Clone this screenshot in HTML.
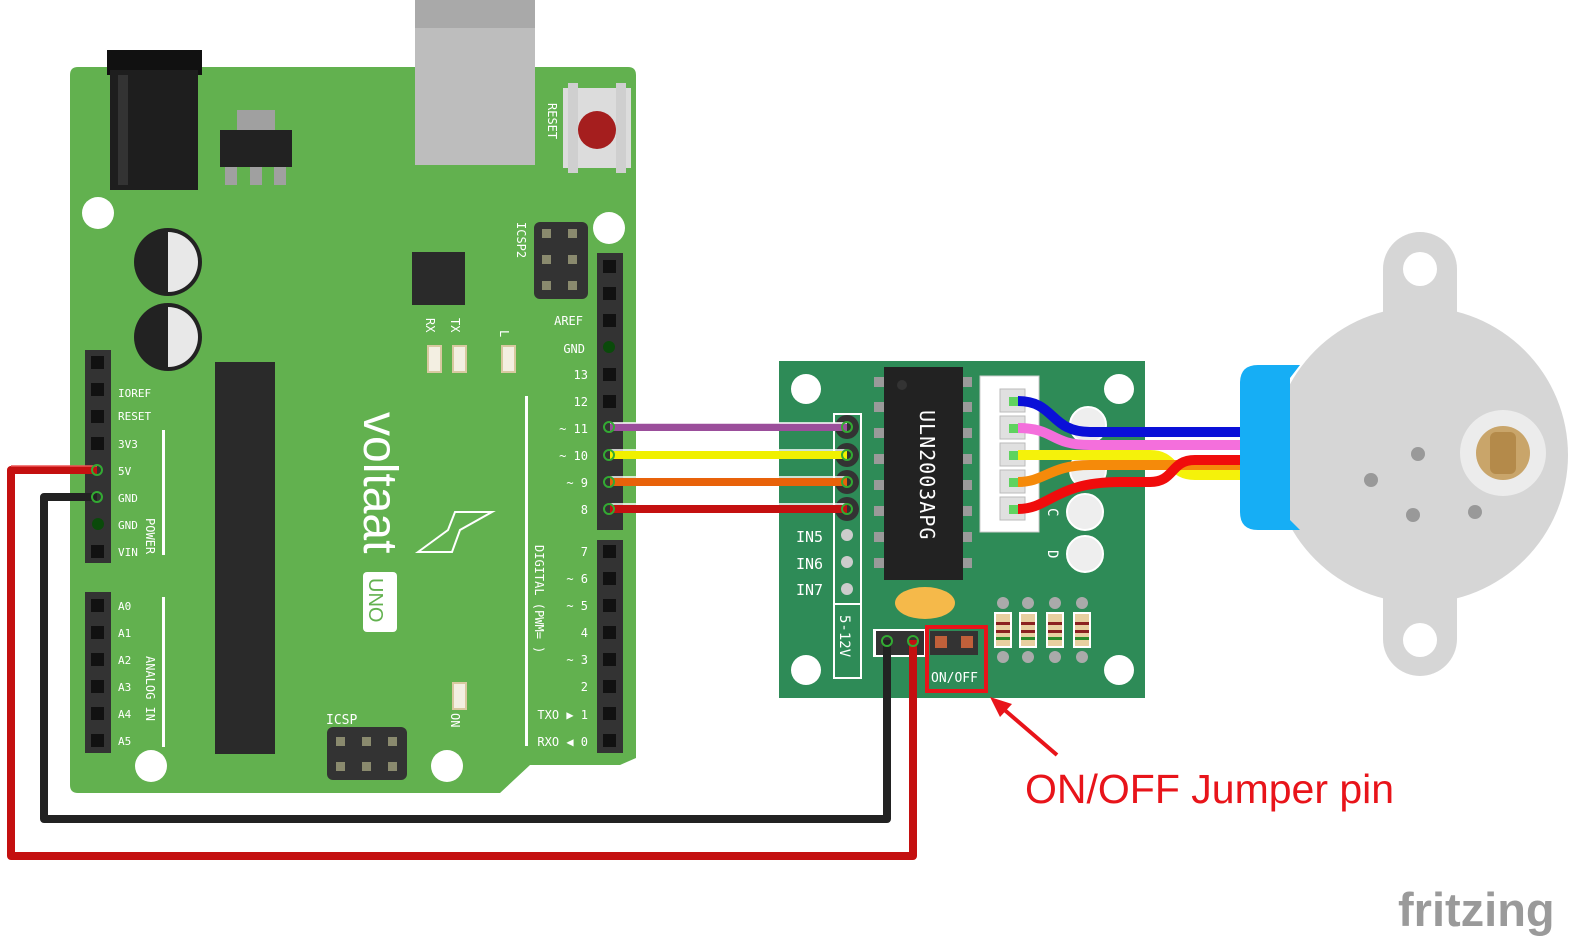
<!DOCTYPE html>
<html><head><meta charset="utf-8"><style>
html,body{margin:0;padding:0;background:#fff;}
svg{display:block;}
text{font-family:"DejaVu Sans Mono","Liberation Mono",monospace;}
</style></head><body>
<svg width="1572" height="939" viewBox="0 0 1572 939" xmlns="http://www.w3.org/2000/svg">
<!-- USB -->
<rect x="400" y="67" width="150" height="16" fill="#a8a8a8"/>
<rect x="415" y="0" width="120" height="165" fill="#bdbdbd"/>
<rect x="415" y="0" width="120" height="28" fill="#a9a9a9"/>
<!-- Arduino board -->
<path d="M78,67 H628 Q636,67 636,75 V758 L620,765 H530 L500,793 H78 Q70,793 70,785 V75 Q70,67 78,67 Z" fill="#62b14f"/>
<rect x="415" y="67" width="120" height="98" fill="#bdbdbd"/>
<!-- power jack -->
<rect x="107" y="50" width="95" height="25" fill="#111"/>
<rect x="110" y="70" width="88" height="120" fill="#1e1e1e"/>
<rect x="118" y="75" width="10" height="110" fill="#333"/>
<!-- regulator -->
<rect x="237" y="110" width="38" height="22" fill="#a0a0a0"/>
<rect x="220" y="130" width="72" height="37" fill="#222"/>
<rect x="225" y="167" width="12" height="18" fill="#a0a0a0"/><rect x="250" y="167" width="12" height="18" fill="#a0a0a0"/><rect x="274" y="167" width="12" height="18" fill="#a0a0a0"/>
<!-- reset -->
<rect x="563" y="88" width="68" height="80" fill="#dcdcdc"/>
<rect x="568" y="83" width="10" height="90" fill="#cfcfcf"/><rect x="616" y="83" width="10" height="90" fill="#cfcfcf"/>
<circle cx="597" cy="130" r="19" fill="#a51e1e"/>
<text x="548" y="103" font-size="12" fill="#fff" transform="rotate(90 548 103)">RESET</text>
<!-- holes -->
<circle cx="98" cy="213" r="16" fill="#fff"/><circle cx="609" cy="228" r="16" fill="#fff"/>
<circle cx="151" cy="766" r="16" fill="#fff"/><circle cx="447" cy="766" r="16" fill="#fff"/>
<!-- caps -->
<g><circle cx="168" cy="262" r="34" fill="#222"/><path d="M168,232 A30,30 0 0 1 168,292 Z" fill="#e8e8e8"/></g>
<g><circle cx="168" cy="337" r="34" fill="#222"/><path d="M168,307 A30,30 0 0 1 168,367 Z" fill="#e8e8e8"/></g>
<!-- chips -->
<rect x="215" y="362" width="60" height="392" fill="#2a2a2a"/>
<rect x="412" y="252" width="53" height="53" fill="#2a2a2a"/>
<!-- ICSP2 -->
<rect x="534" y="222" width="54" height="77" rx="6" fill="#333"/>
<g fill="#8a8a6e"><rect x="542" y="229" width="9" height="9"/><rect x="568" y="229" width="9" height="9"/><rect x="542" y="255" width="9" height="9"/><rect x="568" y="255" width="9" height="9"/><rect x="542" y="281" width="9" height="9"/><rect x="568" y="281" width="9" height="9"/></g>
<text x="517" y="222" font-size="12" fill="#fff" transform="rotate(90 517 222)">ICSP2</text>
<!-- ICSP bottom -->
<rect x="327" y="727" width="80" height="53" rx="6" fill="#333"/>
<g fill="#8a8a6e"><rect x="336" y="737" width="9" height="9"/><rect x="362" y="737" width="9" height="9"/><rect x="388" y="737" width="9" height="9"/><rect x="336" y="762" width="9" height="9"/><rect x="362" y="762" width="9" height="9"/><rect x="388" y="762" width="9" height="9"/></g>
<text x="326" y="724" font-size="13" fill="#fff">ICSP</text>
<!-- LEDs -->
<g fill="#f3efe2" stroke="#d8c9a0" stroke-width="2"><rect x="428" y="346" width="13" height="26"/><rect x="453" y="346" width="13" height="26"/><rect x="502" y="346" width="13" height="26"/><rect x="453" y="683" width="13" height="26"/></g>
<g font-size="12" fill="#fff">
<text x="426" y="318" transform="rotate(90 426 318)">RX</text>
<text x="451" y="318" transform="rotate(90 451 318)">TX</text>
<text x="500" y="330" transform="rotate(90 500 330)">L</text>
<text x="451" y="713" transform="rotate(90 451 713)">ON</text>
<text x="535" y="545" transform="rotate(90 535 545)">DIGITAL (PWM= )</text>
<text x="146" y="518" transform="rotate(90 146 518)">POWER</text>
<text x="146" y="656" transform="rotate(90 146 656)">ANALOG IN</text>
</g>
<rect x="525" y="396" width="3" height="350" fill="#fff"/>
<rect x="162" y="430" width="3" height="125" fill="#fff"/>
<rect x="162" y="597" width="3" height="150" fill="#fff"/>
<!-- voltaat logo -->
<text x="364" y="412" font-size="48" fill="#fff" transform="rotate(90 364 412)" style="font-family:'Liberation Sans',sans-serif">voltaat</text>
<rect x="363" y="572" width="34" height="60" rx="4" fill="#fff"/>
<text x="369" y="578" font-size="20" fill="#62b14f" transform="rotate(90 369 578)" style="font-family:'Liberation Sans',sans-serif">UNO</text>
<path d="M418,552 L448,530 L455,512 L492,512 L460,530 L452,552 Z" fill="none" stroke="#fff" stroke-width="2"/>
<!-- right headers -->
<rect x="597" y="253" width="26" height="277" fill="#333"/>
<rect x="597" y="540" width="26" height="213" fill="#333"/>
<g fill="#111">
<rect x="603" y="260" width="13" height="13"/><rect x="603" y="287" width="13" height="13"/><rect x="603" y="314" width="13" height="13"/><rect x="603" y="368" width="13" height="13"/><rect x="603" y="395" width="13" height="13"/>
<rect x="603" y="545" width="13" height="13"/><rect x="603" y="572" width="13" height="13"/><rect x="603" y="599" width="13" height="13"/><rect x="603" y="626" width="13" height="13"/><rect x="603" y="653" width="13" height="13"/><rect x="603" y="680" width="13" height="13"/><rect x="603" y="707" width="13" height="13"/><rect x="603" y="734" width="13" height="13"/>
</g>
<circle cx="609" cy="347" r="6" fill="#0a4a0a"/>
<g font-size="12" fill="#fff" text-anchor="end">
<text x="583" y="325">AREF</text><text x="585" y="353">GND</text><text x="588" y="379">13</text><text x="588" y="406">12</text>
<text x="588" y="433">~ 11</text><text x="588" y="460">~ 10</text><text x="588" y="487">~ 9</text><text x="588" y="514">8</text>
<text x="588" y="556">7</text><text x="588" y="583">~ 6</text><text x="588" y="610">~ 5</text><text x="588" y="637">4</text><text x="588" y="664">~ 3</text><text x="588" y="691">2</text><text x="588" y="719">TXO ▶ 1</text><text x="588" y="746">RXO ◀ 0</text>
</g>
<!-- left headers -->
<rect x="85" y="350" width="26" height="213" fill="#333"/>
<rect x="85" y="592" width="26" height="161" fill="#333"/>
<g fill="#111">
<rect x="91" y="356" width="13" height="13"/><rect x="91" y="383" width="13" height="13"/><rect x="91" y="410" width="13" height="13"/><rect x="91" y="437" width="13" height="13"/><rect x="91" y="545" width="13" height="13"/>
<rect x="91" y="599" width="13" height="13"/><rect x="91" y="626" width="13" height="13"/><rect x="91" y="653" width="13" height="13"/><rect x="91" y="680" width="13" height="13"/><rect x="91" y="707" width="13" height="13"/><rect x="91" y="734" width="13" height="13"/>
</g>
<circle cx="98" cy="524" r="6" fill="#0a4a0a"/>
<g font-size="11" fill="#fff">
<text x="118" y="397">IOREF</text><text x="118" y="420">RESET</text><text x="118" y="448">3V3</text><text x="118" y="475">5V</text><text x="118" y="502">GND</text><text x="118" y="529">GND</text><text x="118" y="556">VIN</text>
<text x="118" y="610">A0</text><text x="118" y="637">A1</text><text x="118" y="664">A2</text><text x="118" y="691">A3</text><text x="118" y="718">A4</text><text x="118" y="745">A5</text>
</g>
<!-- Driver board -->
<rect x="779" y="361" width="366" height="337" fill="#2e8b57"/>
<circle cx="806" cy="389" r="15" fill="#fff"/><circle cx="1119" cy="389" r="15" fill="#fff"/>
<circle cx="806" cy="670" r="15" fill="#fff"/><circle cx="1119" cy="670" r="15" fill="#fff"/>
<rect x="834" y="414" width="27" height="264" fill="none" stroke="#fff" stroke-width="2"/>
<line x1="834" y1="604" x2="861" y2="604" stroke="#fff" stroke-width="2"/>
<g fill="#333"><circle cx="847" cy="427" r="12"/><circle cx="847" cy="455" r="12"/><circle cx="847" cy="482" r="12"/><circle cx="847" cy="509" r="12"/></g>
<g fill="#ccc"><circle cx="847" cy="535" r="6"/><circle cx="847" cy="562" r="6"/><circle cx="847" cy="589" r="6"/></g>
<g font-size="15" fill="#fff"><text x="796" y="542">IN5</text><text x="796" y="569">IN6</text><text x="796" y="595">IN7</text></g>
<text x="840" y="615" font-size="14" fill="#fff" transform="rotate(90 840 615)">5-12V</text>
<!-- chip -->
<g fill="#9a9a9a">
<rect x="874" y="377" width="10" height="10"/><rect x="874" y="402" width="10" height="10"/><rect x="874" y="428" width="10" height="10"/><rect x="874" y="454" width="10" height="10"/><rect x="874" y="480" width="10" height="10"/><rect x="874" y="506" width="10" height="10"/><rect x="874" y="532" width="10" height="10"/><rect x="874" y="558" width="10" height="10"/>
<rect x="962" y="377" width="10" height="10"/><rect x="962" y="402" width="10" height="10"/><rect x="962" y="428" width="10" height="10"/><rect x="962" y="454" width="10" height="10"/><rect x="962" y="480" width="10" height="10"/><rect x="962" y="506" width="10" height="10"/><rect x="962" y="532" width="10" height="10"/><rect x="962" y="558" width="10" height="10"/>
</g>
<rect x="884" y="367" width="79" height="213" fill="#222"/>
<circle cx="902" cy="385" r="5" fill="#333"/>
<text x="920" y="410" font-size="20" fill="#fff" transform="rotate(90 920 410)" letter-spacing="1">ULN2003APG</text>
<ellipse cx="925" cy="603" rx="30" ry="16" fill="#f5b94a"/>
<!-- connector -->
<rect x="980" y="376" width="59" height="156" fill="#fff" stroke="#ccc"/>
<g fill="#e0e0e0" stroke="#bbb"><rect x="1000" y="389" width="25" height="23"/><rect x="1000" y="416" width="25" height="23"/><rect x="1000" y="443" width="25" height="23"/><rect x="1000" y="470" width="25" height="23"/><rect x="1000" y="497" width="25" height="23"/></g>
<g fill="#5fd35f"><rect x="1009" y="397" width="9" height="9"/><rect x="1009" y="424" width="9" height="9"/><rect x="1009" y="451" width="9" height="9"/><rect x="1009" y="478" width="9" height="9"/><rect x="1009" y="505" width="9" height="9"/></g>
<g fill="#eee" stroke="#fff" stroke-width="2"><circle cx="1088" cy="425" r="18"/><circle cx="1088" cy="470" r="18"/><circle cx="1085" cy="512" r="18"/><circle cx="1085" cy="554" r="18"/></g>
<g font-size="14" fill="#fff"><text x="1048" y="508" transform="rotate(90 1048 508)">C</text><text x="1048" y="550" transform="rotate(90 1048 550)">D</text></g>
<!-- resistors -->
<g>
<g fill="#aaa"><circle cx="1003" cy="603" r="6"/><circle cx="1003" cy="657" r="6"/><circle cx="1028" cy="603" r="6"/><circle cx="1028" cy="657" r="6"/><circle cx="1055" cy="603" r="6"/><circle cx="1055" cy="657" r="6"/><circle cx="1082" cy="603" r="6"/><circle cx="1082" cy="657" r="6"/></g>
<g fill="#e8cfa0" stroke="#fff" stroke-width="2"><rect x="995" y="613" width="16" height="34"/><rect x="1020" y="613" width="16" height="34"/><rect x="1047" y="613" width="16" height="34"/><rect x="1074" y="613" width="16" height="34"/></g>
<g fill="#8b2020"><rect x="996" y="622" width="14" height="3"/><rect x="1021" y="622" width="14" height="3"/><rect x="1048" y="622" width="14" height="3"/><rect x="1075" y="622" width="14" height="3"/><rect x="996" y="630" width="14" height="3"/><rect x="1021" y="630" width="14" height="3"/><rect x="1048" y="630" width="14" height="3"/><rect x="1075" y="630" width="14" height="3"/></g>
<g fill="#2a8a2a"><rect x="996" y="637" width="14" height="3"/><rect x="1021" y="637" width="14" height="3"/><rect x="1048" y="637" width="14" height="3"/><rect x="1075" y="637" width="14" height="3"/></g>
</g>
<!-- power header -->
<rect x="873" y="629" width="52" height="28" fill="#fff"/>
<rect x="876" y="631" width="48" height="24" fill="#333"/>
<rect x="930" y="631" width="48" height="24" fill="#333"/>
<rect x="935" y="636" width="12" height="12" fill="#c0603a"/><rect x="961" y="636" width="12" height="12" fill="#c0603a"/>
<text x="931" y="682" font-size="13" fill="#fff">ON/OFF</text>
<rect x="927" y="627" width="59" height="64" fill="none" stroke="#e8141a" stroke-width="4"/>
<!-- Motor -->
<rect x="1383" y="232" width="74" height="444" rx="37" fill="#d6d6d6"/>
<circle cx="1420" cy="455" r="148" fill="#d6d6d6"/>
<circle cx="1420" cy="269" r="17" fill="#fff"/><circle cx="1420" cy="640" r="17" fill="#fff"/>
<circle cx="1503" cy="453" r="43" fill="#ececec"/>
<circle cx="1503" cy="453" r="27" fill="#c9a56a"/>
<rect x="1490" y="432" width="26" height="42" rx="6" fill="#b48a4a"/>
<g fill="#999"><circle cx="1418" cy="454" r="7"/><circle cx="1371" cy="480" r="7"/><circle cx="1413" cy="515" r="7"/><circle cx="1475" cy="512" r="7"/></g>
<path d="M1258,365 H1300 L1290,378 V520 L1300,530 H1258 Q1240,530 1240,512 V383 Q1240,365 1258,365 Z" fill="#16aef5"/>
<!-- motor wires -->
<g fill="none" stroke-width="10">
<path d="M1018,401 C1055,401 1050,432 1090,432 H1240" stroke="#0a10d8"/>
<path d="M1018,428 C1055,428 1050,445 1090,445 H1240" stroke="#f46fdc"/>
<path d="M1018,455 H1150 C1175,455 1170,475 1195,475 H1240" stroke="#f5f20a"/>
<path d="M1018,482 C1045,482 1050,465 1090,465 H1240" stroke="#f58a0a"/>
<path d="M1018,509 C1050,509 1055,482 1120,482 H1150 C1175,482 1170,460 1195,460 H1240" stroke="#f00c0c"/>
</g>
<!-- Arduino-driver wires -->
<g stroke-width="8" fill="none">
<line x1="610" y1="427" x2="847" y2="427" stroke="#9b4e9b"/>
<line x1="610" y1="455" x2="847" y2="455" stroke="#f0f000"/>
<line x1="610" y1="482" x2="847" y2="482" stroke="#e8620a"/>
<line x1="610" y1="509" x2="847" y2="509" stroke="#c41010"/>
</g>
<g stroke-width="1.5" fill="none">
<line x1="610" y1="423" x2="847" y2="423" stroke="#fff"/>
<line x1="610" y1="450" x2="847" y2="450" stroke="#fff"/>
<line x1="610" y1="477" x2="847" y2="477" stroke="#fff"/>
<line x1="610" y1="504" x2="847" y2="504" stroke="#fff"/>
</g>
<g fill="none" stroke="#3a3" stroke-width="2">
<circle cx="609" cy="427" r="5"/><circle cx="609" cy="455" r="5"/><circle cx="609" cy="482" r="5"/><circle cx="609" cy="509" r="5"/>
<circle cx="847" cy="427" r="5"/><circle cx="847" cy="455" r="5"/><circle cx="847" cy="482" r="5"/><circle cx="847" cy="509" r="5"/>
</g>
<!-- power wires -->
<path d="M97,470 H11 V856 H913 V640" fill="none" stroke="#c41010" stroke-width="8" stroke-linejoin="round"/>
<path d="M97,497 H44 V819 H887 V640" fill="none" stroke="#222" stroke-width="8" stroke-linejoin="round"/>
<path d="M97,466 H11" stroke="#e55" stroke-width="1.5"/>
<g fill="none" stroke="#3a3" stroke-width="2"><circle cx="97" cy="470" r="5"/><circle cx="97" cy="497" r="5"/><circle cx="887" cy="641" r="5"/><circle cx="913" cy="641" r="5"/></g>
<!-- annotation -->
<line x1="1057" y1="755" x2="1000" y2="706" stroke="#e8141a" stroke-width="4"/>
<polygon points="990,697 1012,704 1000,717" fill="#e8141a"/>
<text x="1025" y="803" font-size="41" fill="#e8141a" style="font-family:'Liberation Sans',sans-serif">ON/OFF Jumper pin</text>
<text x="1398" y="926" font-size="47" fill="#9a9a9a" style="font-family:'Liberation Sans',sans-serif" font-weight="bold">fritzing</text>
</svg>
</body></html>
